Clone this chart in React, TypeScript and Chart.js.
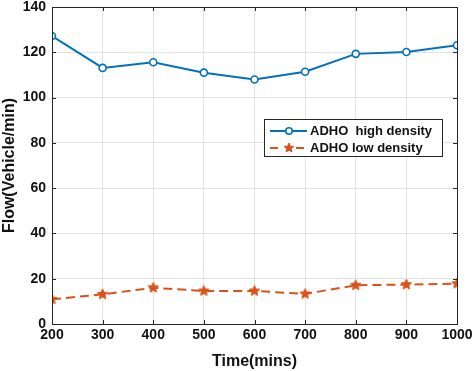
import React, { useEffect, useRef } from "react";
import { Chart, registerables } from "chart.js";

Chart.register(...registerables);

const times = [200, 300, 400, 500, 600, 700, 800, 900, 1000];
const highDensity = [127.2, 113.1, 115.6, 111.0, 108.0, 111.4, 119.3, 120.1, 123.1];
const lowDensity = [10.9, 13.1, 16.0, 14.6, 14.6, 13.3, 17.1, 17.4, 17.8];
const yTicks = [0, 20, 40, 60, 80, 100, 120, 140];
const seriesLabels = ["ADHO  high density", "ADHO low density"];

const BLUE = "#0072BD";
const ORANGE = "#D95319";
const FONT = "'Liberation Sans', Arial, sans-serif";

function makePentagram(color: string, r: number): HTMLCanvasElement {
  const c = document.createElement("canvas");
  const s = Math.ceil(r * 2 + 2);
  c.width = s;
  c.height = s;
  const ctx = c.getContext("2d")!;
  const cx = s / 2, cy = s / 2;
  ctx.beginPath();
  for (let i = 0; i < 10; i++) {
    const rad = i % 2 === 0 ? r : r * 0.45;
    const a = -Math.PI / 2 + (i * Math.PI) / 5;
    const x = cx + rad * Math.cos(a);
    const y = cy + rad * Math.sin(a);
    if (i === 0) ctx.moveTo(x, y);
    else ctx.lineTo(x, y);
  }
  ctx.closePath();
  ctx.fillStyle = color;
  ctx.fill();
  ctx.strokeStyle = color;
  ctx.lineWidth = 1;
  ctx.stroke();
  return c;
}

const framePlugin = {
  id: "frame",
  afterDatasetsDraw(chart: any) {
    const { ctx, chartArea } = chart;
    const { left, right, top, bottom } = chartArea;
    ctx.save();
    ctx.strokeStyle = "#262626";
    ctx.lineWidth = 1;
    ctx.strokeRect(left + 0.5, top + 0.5, right - left, bottom - top);
    const xs = chart.scales.x;
    const ys = chart.scales.y;
    const tl = 4;
    ctx.beginPath();
    times.forEach((t) => {
      const px = Math.round(xs.getPixelForValue(t)) + 0.5;
      ctx.moveTo(px, bottom);
      ctx.lineTo(px, bottom - tl);
      ctx.moveTo(px, top);
      ctx.lineTo(px, top + tl);
    });
    yTicks.forEach((v) => {
      const py = Math.round(ys.getPixelForValue(v)) + 0.5;
      ctx.moveTo(left, py);
      ctx.lineTo(left + tl, py);
      ctx.moveTo(right, py);
      ctx.lineTo(right - tl, py);
    });
    ctx.stroke();

    // legend box
    const lx = 264, ly = 119, lw = 178, lh = 37;
    ctx.fillStyle = "#ffffff";
    ctx.fillRect(lx, ly, lw, lh);
    ctx.strokeStyle = "#262626";
    ctx.strokeRect(lx + 0.5, ly + 0.5, lw, lh);
    const rows = [ly + 12, ly + 29];
    ctx.font = `bold 13px ${FONT}`;
    ctx.textBaseline = "middle";
    ctx.textAlign = "left";
    ctx.strokeStyle = BLUE;
    ctx.lineWidth = 2;
    ctx.setLineDash([]);
    ctx.beginPath();
    ctx.moveTo(270, rows[0]);
    ctx.lineTo(307, rows[0]);
    ctx.stroke();
    ctx.beginPath();
    ctx.arc(289, rows[0], 3.2, 0, Math.PI * 2);
    ctx.fillStyle = "#ffffff";
    ctx.fill();
    ctx.lineWidth = 1.6;
    ctx.stroke();
    ctx.fillStyle = "#111111";
    ctx.fillText(seriesLabels[0], 310, rows[0]);
    ctx.strokeStyle = ORANGE;
    ctx.lineWidth = 2;
    ctx.setLineDash([8, 5]);
    ctx.beginPath();
    ctx.moveTo(270, rows[1]);
    ctx.lineTo(307, rows[1]);
    ctx.stroke();
    ctx.setLineDash([]);
    const star = makePentagram(ORANGE, 5);
    ctx.fillStyle = "#ffffff";
    ctx.fillRect(283, rows[1] - 6, 12, 12);
    ctx.drawImage(star, 289 - star.width / 2, rows[1] - star.height / 2);
    ctx.fillStyle = "#111111";
    ctx.fillText(seriesLabels[1], 310, rows[1]);
    ctx.restore();
  },
};

export default function App() {
  const ref = useRef<HTMLCanvasElement | null>(null);
  useEffect(() => {
    if (!ref.current) return;
    const star = makePentagram(ORANGE, 5.5);
    const chart = new Chart(ref.current, {
      type: "line",
      data: {
        datasets: [
          {
            label: seriesLabels[0],
            data: times.map((t, i) => ({ x: t, y: highDensity[i] })),
            borderColor: BLUE,
            borderWidth: 2,
            pointStyle: "circle",
            pointRadius: 3.5,
            pointBorderWidth: 1.6,
            pointBackgroundColor: "#ffffff",
            pointBorderColor: BLUE,
            tension: 0,
          },
          {
            label: seriesLabels[1],
            data: times.map((t, i) => ({ x: t, y: lowDensity[i] })),
            borderColor: ORANGE,
            borderWidth: 2,
            borderDash: [9, 5],
            pointStyle: star as any,
            pointRadius: 5,
            pointBackgroundColor: ORANGE,
            pointBorderColor: ORANGE,
            tension: 0,
          },
        ],
      },
      options: {
        animation: false,
        responsive: false,
        maintainAspectRatio: false,
        layout: { padding: 0 },
        plugins: {
          legend: { display: false },
          tooltip: { enabled: false },
        },
        scales: {
          x: {
            type: "linear",
            min: 200,
            max: 1000,
            afterBuildTicks: (s: any) => {
              s.ticks = times.map((v) => ({ value: v }));
            },
            ticks: {
              color: "#111111",
              font: { family: FONT, size: 14, weight: "bold" },
              padding: 3,
              maxRotation: 0,
              callback: (v: any) => String(v),
            },
            grid: { color: "#e3e3e3", drawTicks: false, lineWidth: 1 },
            border: { display: false },
            title: {
              display: true,
              text: "Time(mins)",
              color: "#111111",
              font: { family: FONT, size: 16, weight: "bold" },
              padding: { top: 4, bottom: 0 },
            },
            afterFit: (s: any) => {
              s.height = 47;
              s.paddingLeft = 0;
              s.paddingRight = 17;
            },
          },
          y: {
            type: "linear",
            min: 0,
            max: 140,
            afterBuildTicks: (s: any) => {
              s.ticks = yTicks.map((v) => ({ value: v }));
            },
            ticks: {
              color: "#111111",
              font: { family: FONT, size: 14, weight: "bold" },
              padding: 6,
            },
            grid: { color: "#e3e3e3", drawTicks: false, lineWidth: 1 },
            border: { display: false },
            title: {
              display: true,
              text: "Flow(Vehicle/min)",
              color: "#111111",
              font: { family: FONT, size: 16, weight: "bold" },
              padding: { top: 0, bottom: 0 },
            },
            afterFit: (s: any) => {
              s.width = 52;
              s.paddingTop = 7;
              s.paddingBottom = 0;
            },
          },
        },
      },
      plugins: [framePlugin],
    });
    return () => chart.destroy();
  }, []);

  return (
    <div
      style={{
        position: "fixed",
        left: 0,
        top: 0,
        width: 474,
        height: 371,
        overflow: "hidden",
        background: "#ffffff",
      }}
    >
      <canvas ref={ref} width={474} height={371} style={{ width: 474, height: 371, display: "block" }} />
    </div>
  );
}
